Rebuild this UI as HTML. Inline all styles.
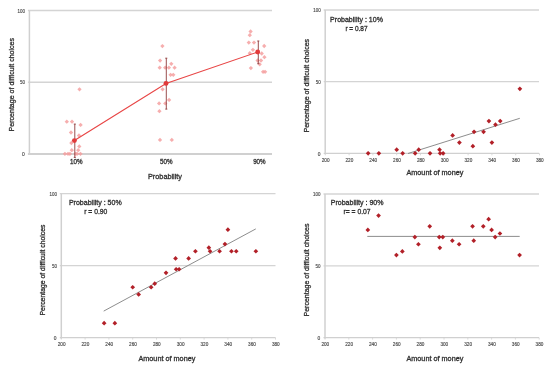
<!DOCTYPE html>
<html><head><meta charset="utf-8"><style>
html,body{margin:0;padding:0;background:#fff;width:550px;height:369px;overflow:hidden;}
svg{display:block;filter:blur(0.3px);}
text{font-family:"Liberation Sans", sans-serif;}
</style></head><body>
<svg width="550" height="369" viewBox="0 0 550 369" font-family='"Liberation Sans", sans-serif'>
<rect width="550" height="369" fill="#ffffff"/>
<line x1="27.9" y1="10.5" x2="272" y2="10.5" stroke="#d4d4d4" stroke-width="1.3"/>
<line x1="27.9" y1="82.25" x2="272" y2="82.25" stroke="#d4d4d4" stroke-width="1.3"/>
<line x1="27.9" y1="154" x2="272" y2="154" stroke="#d0d0d0" stroke-width="1.8"/>
<line x1="29.4" y1="10.5" x2="29.4" y2="155" stroke="#d0d0d0" stroke-width="1.5"/>
<text x="25.0" y="12.6" font-size="4.9" fill="#4a4a4a" stroke="#4a4a4a" stroke-width="0.15" text-anchor="end" textLength="7.5" lengthAdjust="spacingAndGlyphs">100</text>
<text x="25.0" y="84.35" font-size="4.9" fill="#4a4a4a" stroke="#4a4a4a" stroke-width="0.15" text-anchor="end" textLength="5" lengthAdjust="spacingAndGlyphs">50</text>
<text x="24.7" y="156.1" font-size="4.9" fill="#4a4a4a" stroke="#4a4a4a" stroke-width="0.15" text-anchor="end">0</text>
<text transform="translate(11.8,84.7) rotate(-90)" x="0" y="0" font-size="7" fill="#303030" stroke="#303030" stroke-width="0.3" text-anchor="middle" dominant-baseline="central" textLength="93.5" lengthAdjust="spacingAndGlyphs">Percentage of difficult choices</text>
<text x="76.3" y="164.3" font-size="6.5" fill="#303030" stroke="#303030" stroke-width="0.3" text-anchor="middle" textLength="12.5" lengthAdjust="spacingAndGlyphs">10%</text>
<text x="166.3" y="164.3" font-size="6.5" fill="#303030" stroke="#303030" stroke-width="0.3" text-anchor="middle" textLength="12.5" lengthAdjust="spacingAndGlyphs">50%</text>
<text x="259.4" y="164.3" font-size="6.5" fill="#303030" stroke="#303030" stroke-width="0.3" text-anchor="middle" textLength="12.5" lengthAdjust="spacingAndGlyphs">90%</text>
<text x="165" y="178.8" font-size="7.2" fill="#303030" stroke="#303030" stroke-width="0.3" text-anchor="middle" textLength="34" lengthAdjust="spacingAndGlyphs">Probability</text>
<path d="M66.80 119.55L68.95 121.70L66.80 123.85L64.65 121.70Z" fill="#f4a0a0" fill-opacity="0.85"/>
<path d="M72.00 119.55L74.15 121.70L72.00 123.85L69.85 121.70Z" fill="#f4a0a0" fill-opacity="0.85"/>
<path d="M80.60 122.75L82.75 124.90L80.60 127.05L78.45 124.90Z" fill="#f4a0a0" fill-opacity="0.85"/>
<path d="M71.00 130.35L73.15 132.50L71.00 134.65L68.85 132.50Z" fill="#f4a0a0" fill-opacity="0.85"/>
<path d="M79.00 133.35L81.15 135.50L79.00 137.65L76.85 135.50Z" fill="#f4a0a0" fill-opacity="0.85"/>
<path d="M71.40 140.85L73.55 143.00L71.40 145.15L69.25 143.00Z" fill="#f4a0a0" fill-opacity="0.85"/>
<path d="M79.30 144.25L81.45 146.40L79.30 148.55L77.15 146.40Z" fill="#f4a0a0" fill-opacity="0.85"/>
<path d="M71.80 148.05L73.95 150.20L71.80 152.35L69.65 150.20Z" fill="#f4a0a0" fill-opacity="0.85"/>
<path d="M78.20 148.05L80.35 150.20L78.20 152.35L76.05 150.20Z" fill="#f4a0a0" fill-opacity="0.85"/>
<path d="M64.90 151.65L67.05 153.80L64.90 155.95L62.75 153.80Z" fill="#f4a0a0" fill-opacity="0.85"/>
<path d="M68.00 151.65L70.15 153.80L68.00 155.95L65.85 153.80Z" fill="#f4a0a0" fill-opacity="0.85"/>
<path d="M69.90 151.65L72.05 153.80L69.90 155.95L67.75 153.80Z" fill="#f4a0a0" fill-opacity="0.85"/>
<path d="M75.60 151.65L77.75 153.80L75.60 155.95L73.45 153.80Z" fill="#f4a0a0" fill-opacity="0.85"/>
<path d="M77.10 151.65L79.25 153.80L77.10 155.95L74.95 153.80Z" fill="#f4a0a0" fill-opacity="0.85"/>
<path d="M80.50 151.65L82.65 153.80L80.50 155.95L78.35 153.80Z" fill="#f4a0a0" fill-opacity="0.85"/>
<path d="M79.50 87.15L81.65 89.30L79.50 91.45L77.35 89.30Z" fill="#f4a0a0" fill-opacity="0.85"/>
<path d="M162.40 43.95L164.55 46.10L162.40 48.25L160.25 46.10Z" fill="#f4a0a0" fill-opacity="0.85"/>
<path d="M160.10 58.45L162.25 60.60L160.10 62.75L157.95 60.60Z" fill="#f4a0a0" fill-opacity="0.85"/>
<path d="M171.30 61.65L173.45 63.80L171.30 65.95L169.15 63.80Z" fill="#f4a0a0" fill-opacity="0.85"/>
<path d="M159.70 65.55L161.85 67.70L159.70 69.85L157.55 67.70Z" fill="#f4a0a0" fill-opacity="0.85"/>
<path d="M165.20 65.55L167.35 67.70L165.20 69.85L163.05 67.70Z" fill="#f4a0a0" fill-opacity="0.85"/>
<path d="M168.90 65.55L171.05 67.70L168.90 69.85L166.75 67.70Z" fill="#f4a0a0" fill-opacity="0.85"/>
<path d="M174.60 65.55L176.75 67.70L174.60 69.85L172.45 67.70Z" fill="#f4a0a0" fill-opacity="0.85"/>
<path d="M170.60 72.65L172.75 74.80L170.60 76.95L168.45 74.80Z" fill="#f4a0a0" fill-opacity="0.85"/>
<path d="M173.30 72.65L175.45 74.80L173.30 76.95L171.15 74.80Z" fill="#f4a0a0" fill-opacity="0.85"/>
<path d="M162.60 87.15L164.75 89.30L162.60 91.45L160.45 89.30Z" fill="#f4a0a0" fill-opacity="0.85"/>
<path d="M169.10 97.75L171.25 99.90L169.10 102.05L166.95 99.90Z" fill="#f4a0a0" fill-opacity="0.85"/>
<path d="M159.10 101.25L161.25 103.40L159.10 105.55L156.95 103.40Z" fill="#f4a0a0" fill-opacity="0.85"/>
<path d="M165.30 101.25L167.45 103.40L165.30 105.55L163.15 103.40Z" fill="#f4a0a0" fill-opacity="0.85"/>
<path d="M159.40 109.05L161.55 111.20L159.40 113.35L157.25 111.20Z" fill="#f4a0a0" fill-opacity="0.85"/>
<path d="M160.00 137.75L162.15 139.90L160.00 142.05L157.85 139.90Z" fill="#f4a0a0" fill-opacity="0.85"/>
<path d="M171.80 137.75L173.95 139.90L171.80 142.05L169.65 139.90Z" fill="#f4a0a0" fill-opacity="0.85"/>
<path d="M250.60 29.35L252.75 31.50L250.60 33.65L248.45 31.50Z" fill="#f4a0a0" fill-opacity="0.85"/>
<path d="M249.80 33.05L251.95 35.20L249.80 37.35L247.65 35.20Z" fill="#f4a0a0" fill-opacity="0.85"/>
<path d="M248.80 40.45L250.95 42.60L248.80 44.75L246.65 42.60Z" fill="#f4a0a0" fill-opacity="0.85"/>
<path d="M254.00 40.45L256.15 42.60L254.00 44.75L251.85 42.60Z" fill="#f4a0a0" fill-opacity="0.85"/>
<path d="M264.20 43.85L266.35 46.00L264.20 48.15L262.05 46.00Z" fill="#f4a0a0" fill-opacity="0.85"/>
<path d="M252.90 47.65L255.05 49.80L252.90 51.95L250.75 49.80Z" fill="#f4a0a0" fill-opacity="0.85"/>
<path d="M249.80 51.05L251.95 53.20L249.80 55.35L247.65 53.20Z" fill="#f4a0a0" fill-opacity="0.85"/>
<path d="M261.70 51.35L263.85 53.50L261.70 55.65L259.55 53.50Z" fill="#f4a0a0" fill-opacity="0.85"/>
<path d="M264.40 55.05L266.55 57.20L264.40 59.35L262.25 57.20Z" fill="#f4a0a0" fill-opacity="0.85"/>
<path d="M257.60 58.35L259.75 60.50L257.60 62.65L255.45 60.50Z" fill="#f4a0a0" fill-opacity="0.85"/>
<path d="M261.00 58.35L263.15 60.50L261.00 62.65L258.85 60.50Z" fill="#f4a0a0" fill-opacity="0.85"/>
<path d="M259.70 62.15L261.85 64.30L259.70 66.45L257.55 64.30Z" fill="#f4a0a0" fill-opacity="0.85"/>
<path d="M250.90 65.95L253.05 68.10L250.90 70.25L248.75 68.10Z" fill="#f4a0a0" fill-opacity="0.85"/>
<path d="M263.10 69.65L265.25 71.80L263.10 73.95L260.95 71.80Z" fill="#f4a0a0" fill-opacity="0.85"/>
<path d="M265.10 69.65L267.25 71.80L265.10 73.95L262.95 71.80Z" fill="#f4a0a0" fill-opacity="0.85"/>
<line x1="74.8" y1="124.1" x2="74.8" y2="157.4" stroke="#964444" stroke-width="0.95"/>
<line x1="73.8" y1="124.1" x2="75.8" y2="124.1" stroke="#964444" stroke-width="1"/>
<line x1="73.8" y1="157.4" x2="75.8" y2="157.4" stroke="#964444" stroke-width="1"/>
<line x1="166.3" y1="58.2" x2="166.3" y2="109.1" stroke="#964444" stroke-width="0.95"/>
<line x1="165.3" y1="58.2" x2="167.3" y2="58.2" stroke="#964444" stroke-width="1"/>
<line x1="165.3" y1="109.1" x2="167.3" y2="109.1" stroke="#964444" stroke-width="1"/>
<line x1="258.3" y1="41" x2="258.3" y2="63.7" stroke="#964444" stroke-width="0.95"/>
<line x1="257.3" y1="41" x2="259.3" y2="41" stroke="#964444" stroke-width="1"/>
<line x1="257.3" y1="63.7" x2="259.3" y2="63.7" stroke="#964444" stroke-width="1"/>
<polyline points="74.4,140.6 166.0,83.4 257.7,52.0" fill="none" stroke="#e84545" stroke-width="1.15"/>
<circle cx="74.4" cy="140.6" r="2.45" fill="#e23a3a"/>
<circle cx="166.0" cy="83.4" r="2.45" fill="#e23a3a"/>
<circle cx="257.7" cy="52.0" r="2.45" fill="#e23a3a"/>
<line x1="323.7" y1="10" x2="539" y2="10" stroke="#d4d4d4" stroke-width="1.3"/>
<line x1="323.7" y1="81.65" x2="539" y2="81.65" stroke="#d4d4d4" stroke-width="1.3"/>
<line x1="323.7" y1="153.3" x2="539" y2="153.3" stroke="#d0d0d0" stroke-width="1.3"/>
<line x1="325.2" y1="10" x2="325.2" y2="154.3" stroke="#d0d0d0" stroke-width="1.5"/>
<text x="320.8" y="12.1" font-size="4.9" fill="#4a4a4a" stroke="#4a4a4a" stroke-width="0.15" text-anchor="end" textLength="7.5" lengthAdjust="spacingAndGlyphs">100</text>
<text x="320.8" y="83.75" font-size="4.9" fill="#4a4a4a" stroke="#4a4a4a" stroke-width="0.15" text-anchor="end" textLength="5" lengthAdjust="spacingAndGlyphs">50</text>
<text x="320.5" y="156.1" font-size="4.9" fill="#4a4a4a" stroke="#4a4a4a" stroke-width="0.15" text-anchor="end">0</text>
<line x1="325.30" y1="153.3" x2="325.30" y2="155.3" stroke="#d0d0d0" stroke-width="0.8"/>
<text x="325.60" y="162.20000000000002" font-size="4.9" fill="#4a4a4a" stroke="#4a4a4a" stroke-width="0.15" text-anchor="middle" textLength="7.8" lengthAdjust="spacingAndGlyphs">200</text>
<line x1="349.10" y1="153.3" x2="349.10" y2="155.3" stroke="#d0d0d0" stroke-width="0.8"/>
<text x="349.40" y="162.20000000000002" font-size="4.9" fill="#4a4a4a" stroke="#4a4a4a" stroke-width="0.15" text-anchor="middle" textLength="7.8" lengthAdjust="spacingAndGlyphs">220</text>
<line x1="372.90" y1="153.3" x2="372.90" y2="155.3" stroke="#d0d0d0" stroke-width="0.8"/>
<text x="373.20" y="162.20000000000002" font-size="4.9" fill="#4a4a4a" stroke="#4a4a4a" stroke-width="0.15" text-anchor="middle" textLength="7.8" lengthAdjust="spacingAndGlyphs">240</text>
<line x1="396.70" y1="153.3" x2="396.70" y2="155.3" stroke="#d0d0d0" stroke-width="0.8"/>
<text x="397.00" y="162.20000000000002" font-size="4.9" fill="#4a4a4a" stroke="#4a4a4a" stroke-width="0.15" text-anchor="middle" textLength="7.8" lengthAdjust="spacingAndGlyphs">260</text>
<line x1="420.50" y1="153.3" x2="420.50" y2="155.3" stroke="#d0d0d0" stroke-width="0.8"/>
<text x="420.80" y="162.20000000000002" font-size="4.9" fill="#4a4a4a" stroke="#4a4a4a" stroke-width="0.15" text-anchor="middle" textLength="7.8" lengthAdjust="spacingAndGlyphs">280</text>
<line x1="444.30" y1="153.3" x2="444.30" y2="155.3" stroke="#d0d0d0" stroke-width="0.8"/>
<text x="444.60" y="162.20000000000002" font-size="4.9" fill="#4a4a4a" stroke="#4a4a4a" stroke-width="0.15" text-anchor="middle" textLength="7.8" lengthAdjust="spacingAndGlyphs">300</text>
<line x1="468.10" y1="153.3" x2="468.10" y2="155.3" stroke="#d0d0d0" stroke-width="0.8"/>
<text x="468.40" y="162.20000000000002" font-size="4.9" fill="#4a4a4a" stroke="#4a4a4a" stroke-width="0.15" text-anchor="middle" textLength="7.8" lengthAdjust="spacingAndGlyphs">320</text>
<line x1="491.90" y1="153.3" x2="491.90" y2="155.3" stroke="#d0d0d0" stroke-width="0.8"/>
<text x="492.20" y="162.20000000000002" font-size="4.9" fill="#4a4a4a" stroke="#4a4a4a" stroke-width="0.15" text-anchor="middle" textLength="7.8" lengthAdjust="spacingAndGlyphs">340</text>
<line x1="515.70" y1="153.3" x2="515.70" y2="155.3" stroke="#d0d0d0" stroke-width="0.8"/>
<text x="516.00" y="162.20000000000002" font-size="4.9" fill="#4a4a4a" stroke="#4a4a4a" stroke-width="0.15" text-anchor="middle" textLength="7.8" lengthAdjust="spacingAndGlyphs">360</text>
<line x1="539.50" y1="153.3" x2="539.50" y2="155.3" stroke="#d0d0d0" stroke-width="0.8"/>
<text x="539.80" y="162.20000000000002" font-size="4.9" fill="#4a4a4a" stroke="#4a4a4a" stroke-width="0.15" text-anchor="middle" textLength="7.8" lengthAdjust="spacingAndGlyphs">380</text>
<text transform="translate(306.2,85.7) rotate(-90)" x="0" y="0" font-size="7" fill="#303030" stroke="#303030" stroke-width="0.3" text-anchor="middle" dominant-baseline="central" textLength="93.7" lengthAdjust="spacingAndGlyphs">Percentage of difficult choices</text>
<text x="434.9" y="174.5" font-size="7.2" fill="#303030" stroke="#303030" stroke-width="0.3" text-anchor="middle" textLength="57" lengthAdjust="spacingAndGlyphs">Amount of money</text>
<text x="330.1" y="21.7" font-size="7" fill="#303030" stroke="#303030" stroke-width="0.3" text-anchor="start" textLength="52.8" lengthAdjust="spacingAndGlyphs">Probability : 10%</text>
<text x="345.4" y="30.9" font-size="7" fill="#303030" stroke="#303030" stroke-width="0.3" text-anchor="start" textLength="22.2" lengthAdjust="spacingAndGlyphs">r = 0.87</text>
<line x1="408" y1="153.5" x2="519.8" y2="118.3" stroke="#808080" stroke-width="0.9"/>
<path d="M368.14 150.95L370.49 153.30L368.14 155.65L365.79 153.30Z" fill="#b22028"/>
<path d="M378.85 150.95L381.20 153.30L378.85 155.65L376.50 153.30Z" fill="#b22028"/>
<path d="M396.70 147.37L399.05 149.72L396.70 152.07L394.35 149.72Z" fill="#b22028"/>
<path d="M402.65 150.95L405.00 153.30L402.65 155.65L400.30 153.30Z" fill="#b22028"/>
<path d="M415.14 150.95L417.50 153.30L415.14 155.65L412.79 153.30Z" fill="#b22028"/>
<path d="M418.72 147.37L421.07 149.72L418.72 152.07L416.37 149.72Z" fill="#b22028"/>
<path d="M430.02 150.95L432.37 153.30L430.02 155.65L427.67 153.30Z" fill="#b22028"/>
<path d="M439.54 147.37L441.89 149.72L439.54 152.07L437.19 149.72Z" fill="#b22028"/>
<path d="M440.13 150.95L442.49 153.30L440.13 155.65L437.78 153.30Z" fill="#b22028"/>
<path d="M443.11 150.95L445.46 153.30L443.11 155.65L440.76 153.30Z" fill="#b22028"/>
<path d="M452.63 133.04L454.98 135.39L452.63 137.74L450.28 135.39Z" fill="#b22028"/>
<path d="M459.41 140.20L461.76 142.55L459.41 144.90L457.06 142.55Z" fill="#b22028"/>
<path d="M472.86 143.79L475.21 146.14L472.86 148.49L470.51 146.14Z" fill="#b22028"/>
<path d="M474.05 129.46L476.40 131.81L474.05 134.16L471.70 131.81Z" fill="#b22028"/>
<path d="M483.57 129.46L485.92 131.81L483.57 134.16L481.22 131.81Z" fill="#b22028"/>
<path d="M488.93 118.71L491.28 121.06L488.93 123.41L486.57 121.06Z" fill="#b22028"/>
<path d="M491.90 140.20L494.25 142.55L491.90 144.90L489.55 142.55Z" fill="#b22028"/>
<path d="M495.47 122.29L497.82 124.64L495.47 126.99L493.12 124.64Z" fill="#b22028"/>
<path d="M500.23 118.71L502.58 121.06L500.23 123.41L497.88 121.06Z" fill="#b22028"/>
<path d="M519.87 86.47L522.22 88.82L519.87 91.17L517.51 88.82Z" fill="#b22028"/>
<line x1="59.8" y1="193.7" x2="275.5" y2="193.7" stroke="#d4d4d4" stroke-width="1.3"/>
<line x1="59.8" y1="265.65" x2="275.5" y2="265.65" stroke="#d4d4d4" stroke-width="1.3"/>
<line x1="59.8" y1="337.6" x2="275.5" y2="337.6" stroke="#d0d0d0" stroke-width="1.3"/>
<line x1="61.3" y1="193.7" x2="61.3" y2="338.6" stroke="#d0d0d0" stroke-width="1.5"/>
<text x="56.9" y="195.79999999999998" font-size="4.9" fill="#4a4a4a" stroke="#4a4a4a" stroke-width="0.15" text-anchor="end" textLength="7.5" lengthAdjust="spacingAndGlyphs">100</text>
<text x="56.9" y="267.75" font-size="4.9" fill="#4a4a4a" stroke="#4a4a4a" stroke-width="0.15" text-anchor="end" textLength="5" lengthAdjust="spacingAndGlyphs">50</text>
<text x="56.599999999999994" y="339.70000000000005" font-size="4.9" fill="#4a4a4a" stroke="#4a4a4a" stroke-width="0.15" text-anchor="end">0</text>
<line x1="61.30" y1="337.6" x2="61.30" y2="339.6" stroke="#d0d0d0" stroke-width="0.8"/>
<text x="61.60" y="345.70000000000005" font-size="4.9" fill="#4a4a4a" stroke="#4a4a4a" stroke-width="0.15" text-anchor="middle" textLength="7.8" lengthAdjust="spacingAndGlyphs">200</text>
<line x1="85.10" y1="337.6" x2="85.10" y2="339.6" stroke="#d0d0d0" stroke-width="0.8"/>
<text x="85.40" y="345.70000000000005" font-size="4.9" fill="#4a4a4a" stroke="#4a4a4a" stroke-width="0.15" text-anchor="middle" textLength="7.8" lengthAdjust="spacingAndGlyphs">220</text>
<line x1="108.90" y1="337.6" x2="108.90" y2="339.6" stroke="#d0d0d0" stroke-width="0.8"/>
<text x="109.20" y="345.70000000000005" font-size="4.9" fill="#4a4a4a" stroke="#4a4a4a" stroke-width="0.15" text-anchor="middle" textLength="7.8" lengthAdjust="spacingAndGlyphs">240</text>
<line x1="132.70" y1="337.6" x2="132.70" y2="339.6" stroke="#d0d0d0" stroke-width="0.8"/>
<text x="133.00" y="345.70000000000005" font-size="4.9" fill="#4a4a4a" stroke="#4a4a4a" stroke-width="0.15" text-anchor="middle" textLength="7.8" lengthAdjust="spacingAndGlyphs">260</text>
<line x1="156.50" y1="337.6" x2="156.50" y2="339.6" stroke="#d0d0d0" stroke-width="0.8"/>
<text x="156.80" y="345.70000000000005" font-size="4.9" fill="#4a4a4a" stroke="#4a4a4a" stroke-width="0.15" text-anchor="middle" textLength="7.8" lengthAdjust="spacingAndGlyphs">280</text>
<line x1="180.30" y1="337.6" x2="180.30" y2="339.6" stroke="#d0d0d0" stroke-width="0.8"/>
<text x="180.60" y="345.70000000000005" font-size="4.9" fill="#4a4a4a" stroke="#4a4a4a" stroke-width="0.15" text-anchor="middle" textLength="7.8" lengthAdjust="spacingAndGlyphs">300</text>
<line x1="204.10" y1="337.6" x2="204.10" y2="339.6" stroke="#d0d0d0" stroke-width="0.8"/>
<text x="204.40" y="345.70000000000005" font-size="4.9" fill="#4a4a4a" stroke="#4a4a4a" stroke-width="0.15" text-anchor="middle" textLength="7.8" lengthAdjust="spacingAndGlyphs">320</text>
<line x1="227.90" y1="337.6" x2="227.90" y2="339.6" stroke="#d0d0d0" stroke-width="0.8"/>
<text x="228.20" y="345.70000000000005" font-size="4.9" fill="#4a4a4a" stroke="#4a4a4a" stroke-width="0.15" text-anchor="middle" textLength="7.8" lengthAdjust="spacingAndGlyphs">340</text>
<line x1="251.70" y1="337.6" x2="251.70" y2="339.6" stroke="#d0d0d0" stroke-width="0.8"/>
<text x="252.00" y="345.70000000000005" font-size="4.9" fill="#4a4a4a" stroke="#4a4a4a" stroke-width="0.15" text-anchor="middle" textLength="7.8" lengthAdjust="spacingAndGlyphs">360</text>
<line x1="275.50" y1="337.6" x2="275.50" y2="339.6" stroke="#d0d0d0" stroke-width="0.8"/>
<text x="275.80" y="345.70000000000005" font-size="4.9" fill="#4a4a4a" stroke="#4a4a4a" stroke-width="0.15" text-anchor="middle" textLength="7.8" lengthAdjust="spacingAndGlyphs">380</text>
<text transform="translate(42.5,270) rotate(-90)" x="0" y="0" font-size="7" fill="#303030" stroke="#303030" stroke-width="0.3" text-anchor="middle" dominant-baseline="central" textLength="91" lengthAdjust="spacingAndGlyphs">Percentage of difficult choices</text>
<text x="166.9" y="360.9" font-size="7.2" fill="#303030" stroke="#303030" stroke-width="0.3" text-anchor="middle" textLength="57" lengthAdjust="spacingAndGlyphs">Amount of money</text>
<text x="68.9" y="205" font-size="7" fill="#303030" stroke="#303030" stroke-width="0.3" text-anchor="start" textLength="52.8" lengthAdjust="spacingAndGlyphs">Probability : 50%</text>
<text x="84.2" y="214.2" font-size="7" fill="#303030" stroke="#303030" stroke-width="0.3" text-anchor="start" textLength="23.1" lengthAdjust="spacingAndGlyphs">r = 0.90</text>
<line x1="103.7" y1="311.1" x2="255.8" y2="228.9" stroke="#808080" stroke-width="0.9"/>
<path d="M104.14 320.86L106.49 323.21L104.14 325.56L101.79 323.21Z" fill="#b22028"/>
<path d="M114.85 320.86L117.20 323.21L114.85 325.56L112.50 323.21Z" fill="#b22028"/>
<path d="M132.70 284.88L135.05 287.24L132.70 289.59L130.35 287.24Z" fill="#b22028"/>
<path d="M138.65 292.08L141.00 294.43L138.65 296.78L136.30 294.43Z" fill="#b22028"/>
<path d="M151.14 284.88L153.49 287.24L151.14 289.59L148.79 287.24Z" fill="#b22028"/>
<path d="M154.71 281.29L157.06 283.64L154.71 285.99L152.36 283.64Z" fill="#b22028"/>
<path d="M166.02 270.50L168.37 272.85L166.02 275.20L163.67 272.85Z" fill="#b22028"/>
<path d="M175.54 256.11L177.89 258.46L175.54 260.81L173.19 258.46Z" fill="#b22028"/>
<path d="M176.13 266.90L178.48 269.25L176.13 271.60L173.78 269.25Z" fill="#b22028"/>
<path d="M179.11 266.90L181.46 269.25L179.11 271.60L176.76 269.25Z" fill="#b22028"/>
<path d="M188.63 256.11L190.98 258.46L188.63 260.81L186.28 258.46Z" fill="#b22028"/>
<path d="M195.41 248.91L197.76 251.26L195.41 253.61L193.06 251.26Z" fill="#b22028"/>
<path d="M208.86 245.31L211.21 247.66L208.86 250.01L206.51 247.66Z" fill="#b22028"/>
<path d="M210.05 248.91L212.40 251.26L210.05 253.61L207.70 251.26Z" fill="#b22028"/>
<path d="M219.57 248.91L221.92 251.26L219.57 253.61L217.22 251.26Z" fill="#b22028"/>
<path d="M224.93 241.72L227.28 244.06L224.93 246.41L222.58 244.06Z" fill="#b22028"/>
<path d="M227.90 227.33L230.25 229.68L227.90 232.03L225.55 229.68Z" fill="#b22028"/>
<path d="M231.47 248.91L233.82 251.26L231.47 253.61L229.12 251.26Z" fill="#b22028"/>
<path d="M236.23 248.91L238.58 251.26L236.23 253.61L233.88 251.26Z" fill="#b22028"/>
<path d="M255.87 248.91L258.22 251.26L255.87 253.61L253.52 251.26Z" fill="#b22028"/>
<line x1="323.5" y1="194" x2="539" y2="194" stroke="#d4d4d4" stroke-width="1.3"/>
<line x1="323.5" y1="265.8" x2="539" y2="265.8" stroke="#d4d4d4" stroke-width="1.3"/>
<line x1="323.5" y1="337.6" x2="539" y2="337.6" stroke="#d0d0d0" stroke-width="1.3"/>
<line x1="325" y1="194" x2="325" y2="338.6" stroke="#d0d0d0" stroke-width="1.5"/>
<text x="320.6" y="196.1" font-size="4.9" fill="#4a4a4a" stroke="#4a4a4a" stroke-width="0.15" text-anchor="end" textLength="7.5" lengthAdjust="spacingAndGlyphs">100</text>
<text x="320.6" y="267.90000000000003" font-size="4.9" fill="#4a4a4a" stroke="#4a4a4a" stroke-width="0.15" text-anchor="end" textLength="5" lengthAdjust="spacingAndGlyphs">50</text>
<text x="320.3" y="339.70000000000005" font-size="4.9" fill="#4a4a4a" stroke="#4a4a4a" stroke-width="0.15" text-anchor="end">0</text>
<line x1="325.00" y1="337.6" x2="325.00" y2="339.6" stroke="#d0d0d0" stroke-width="0.8"/>
<text x="325.30" y="345.70000000000005" font-size="4.9" fill="#4a4a4a" stroke="#4a4a4a" stroke-width="0.15" text-anchor="middle" textLength="7.8" lengthAdjust="spacingAndGlyphs">200</text>
<line x1="348.80" y1="337.6" x2="348.80" y2="339.6" stroke="#d0d0d0" stroke-width="0.8"/>
<text x="349.10" y="345.70000000000005" font-size="4.9" fill="#4a4a4a" stroke="#4a4a4a" stroke-width="0.15" text-anchor="middle" textLength="7.8" lengthAdjust="spacingAndGlyphs">220</text>
<line x1="372.60" y1="337.6" x2="372.60" y2="339.6" stroke="#d0d0d0" stroke-width="0.8"/>
<text x="372.90" y="345.70000000000005" font-size="4.9" fill="#4a4a4a" stroke="#4a4a4a" stroke-width="0.15" text-anchor="middle" textLength="7.8" lengthAdjust="spacingAndGlyphs">240</text>
<line x1="396.40" y1="337.6" x2="396.40" y2="339.6" stroke="#d0d0d0" stroke-width="0.8"/>
<text x="396.70" y="345.70000000000005" font-size="4.9" fill="#4a4a4a" stroke="#4a4a4a" stroke-width="0.15" text-anchor="middle" textLength="7.8" lengthAdjust="spacingAndGlyphs">260</text>
<line x1="420.20" y1="337.6" x2="420.20" y2="339.6" stroke="#d0d0d0" stroke-width="0.8"/>
<text x="420.50" y="345.70000000000005" font-size="4.9" fill="#4a4a4a" stroke="#4a4a4a" stroke-width="0.15" text-anchor="middle" textLength="7.8" lengthAdjust="spacingAndGlyphs">280</text>
<line x1="444.00" y1="337.6" x2="444.00" y2="339.6" stroke="#d0d0d0" stroke-width="0.8"/>
<text x="444.30" y="345.70000000000005" font-size="4.9" fill="#4a4a4a" stroke="#4a4a4a" stroke-width="0.15" text-anchor="middle" textLength="7.8" lengthAdjust="spacingAndGlyphs">300</text>
<line x1="467.80" y1="337.6" x2="467.80" y2="339.6" stroke="#d0d0d0" stroke-width="0.8"/>
<text x="468.10" y="345.70000000000005" font-size="4.9" fill="#4a4a4a" stroke="#4a4a4a" stroke-width="0.15" text-anchor="middle" textLength="7.8" lengthAdjust="spacingAndGlyphs">320</text>
<line x1="491.60" y1="337.6" x2="491.60" y2="339.6" stroke="#d0d0d0" stroke-width="0.8"/>
<text x="491.90" y="345.70000000000005" font-size="4.9" fill="#4a4a4a" stroke="#4a4a4a" stroke-width="0.15" text-anchor="middle" textLength="7.8" lengthAdjust="spacingAndGlyphs">340</text>
<line x1="515.40" y1="337.6" x2="515.40" y2="339.6" stroke="#d0d0d0" stroke-width="0.8"/>
<text x="515.70" y="345.70000000000005" font-size="4.9" fill="#4a4a4a" stroke="#4a4a4a" stroke-width="0.15" text-anchor="middle" textLength="7.8" lengthAdjust="spacingAndGlyphs">360</text>
<line x1="539.20" y1="337.6" x2="539.20" y2="339.6" stroke="#d0d0d0" stroke-width="0.8"/>
<text x="539.50" y="345.70000000000005" font-size="4.9" fill="#4a4a4a" stroke="#4a4a4a" stroke-width="0.15" text-anchor="middle" textLength="7.8" lengthAdjust="spacingAndGlyphs">380</text>
<text transform="translate(306.5,270) rotate(-90)" x="0" y="0" font-size="7" fill="#303030" stroke="#303030" stroke-width="0.3" text-anchor="middle" dominant-baseline="central" textLength="93" lengthAdjust="spacingAndGlyphs">Percentage of difficult choices</text>
<text x="434.9" y="360.9" font-size="7.2" fill="#303030" stroke="#303030" stroke-width="0.3" text-anchor="middle" textLength="57" lengthAdjust="spacingAndGlyphs">Amount of money</text>
<text x="330.7" y="205" font-size="7" fill="#303030" stroke="#303030" stroke-width="0.3" text-anchor="start" textLength="52.8" lengthAdjust="spacingAndGlyphs">Probability : 90%</text>
<text x="343.5" y="214.4" font-size="7" fill="#303030" stroke="#303030" stroke-width="0.3" text-anchor="start" textLength="27.1" lengthAdjust="spacingAndGlyphs">r= = 0.07</text>
<line x1="367.3" y1="236.4" x2="519.7" y2="236.4" stroke="#808080" stroke-width="0.9"/>
<path d="M367.84 227.55L370.19 229.90L367.84 232.25L365.49 229.90Z" fill="#b22028"/>
<path d="M378.55 213.19L380.90 215.54L378.55 217.89L376.20 215.54Z" fill="#b22028"/>
<path d="M396.40 252.68L398.75 255.03L396.40 257.38L394.05 255.03Z" fill="#b22028"/>
<path d="M402.35 249.09L404.70 251.44L402.35 253.79L400.00 251.44Z" fill="#b22028"/>
<path d="M414.85 234.73L417.20 237.08L414.85 239.43L412.50 237.08Z" fill="#b22028"/>
<path d="M418.41 241.91L420.76 244.26L418.41 246.61L416.06 244.26Z" fill="#b22028"/>
<path d="M429.72 223.96L432.07 226.31L429.72 228.66L427.37 226.31Z" fill="#b22028"/>
<path d="M439.24 234.73L441.59 237.08L439.24 239.43L436.89 237.08Z" fill="#b22028"/>
<path d="M439.83 245.50L442.19 247.85L439.83 250.20L437.48 247.85Z" fill="#b22028"/>
<path d="M442.81 234.73L445.16 237.08L442.81 239.43L440.46 237.08Z" fill="#b22028"/>
<path d="M452.33 238.32L454.68 240.67L452.33 243.02L449.98 240.67Z" fill="#b22028"/>
<path d="M459.11 241.91L461.46 244.26L459.11 246.61L456.76 244.26Z" fill="#b22028"/>
<path d="M472.56 223.96L474.91 226.31L472.56 228.66L470.21 226.31Z" fill="#b22028"/>
<path d="M473.75 238.32L476.10 240.67L473.75 243.02L471.40 240.67Z" fill="#b22028"/>
<path d="M483.27 223.96L485.62 226.31L483.27 228.66L480.92 226.31Z" fill="#b22028"/>
<path d="M488.62 216.78L490.98 219.13L488.62 221.48L486.27 219.13Z" fill="#b22028"/>
<path d="M491.60 227.55L493.95 229.90L491.60 232.25L489.25 229.90Z" fill="#b22028"/>
<path d="M495.17 234.73L497.52 237.08L495.17 239.43L492.82 237.08Z" fill="#b22028"/>
<path d="M499.93 231.14L502.28 233.49L499.93 235.84L497.58 233.49Z" fill="#b22028"/>
<path d="M519.57 252.68L521.92 255.03L519.57 257.38L517.22 255.03Z" fill="#b22028"/>
</svg>
</body></html>
